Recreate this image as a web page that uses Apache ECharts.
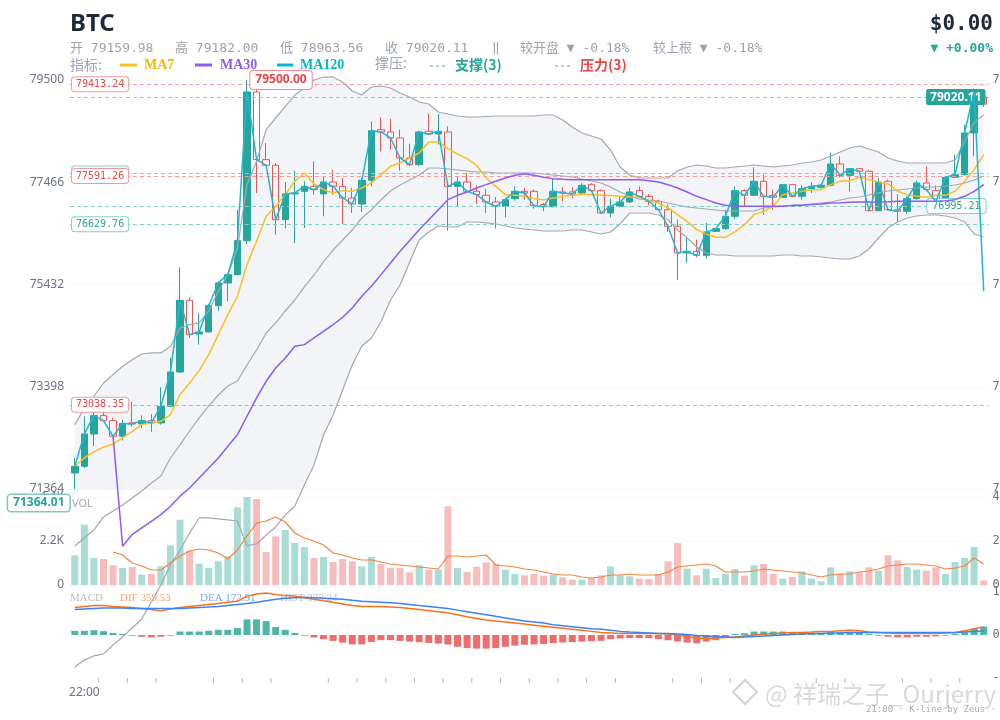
<!DOCTYPE html>
<html>
<head>
<meta charset="utf-8">
<title>BTC K-line</title>
<script src="https://cdn.jsdelivr.net/npm/echarts@6.0.0/dist/echarts.min.js"></script>
<style>
  html, body { margin: 0; padding: 0; background: #fff; }
  #chart { width: 1000px; height: 720px; }
</style>
</head>
<body>
<div id="chart"></div>
<script>
// ---- data (15 min bars) ----
var opens = [71683,71816,72459,72824,72724,72413,72678,72658,72724,72678,
  73009,73692,75118,74448,74488,75012,75463,75628,76305,79262,
  77916,77803,76722,77233,77286,77385,77233,77471,77385,77153,
  77034,77505,78512,78466,78347,77949,77816,78479,78426,78466,
  77385,77471,77286,77206,77074,76987,77140,77286,77286,77021,
  76981,77273,77273,77253,77418,77299,76855,76987,77074,77299,
  77186,77087,76921,76590,76059,76092,76013,76490,76543,76789,
  77299,77206,77485,77206,77166,77418,77186,77339,77365,77405,
  77829,77604,77737,77684,76901,77485,76921,76888,77140,77452,
  77299,77087,77564,77617,78446,79159.98];
var closes = [71816,72459,72824,72724,72413,72665,72658,72724,72678,73009,
  73692,75118,74435,74488,75012,75463,75628,76305,79262,77916,
  77803,76722,77233,77253,77385,77319,77471,77385,77153,77034,
  77505,78492,78466,78347,77949,77816,78466,78426,78479,77385,
  77471,77286,77220,77074,76987,77120,77286,77253,77001,76981,
  77286,77253,77233,77405,77299,76855,76987,77074,77273,77186,
  77087,76921,76590,76059,76092,76013,76477,76543,76789,77299,
  77206,77485,77186,77166,77418,77186,77339,77385,77405,77829,
  77604,77737,77684,76901,77471,76921,76888,77140,77452,77319,
  77087,77564,77617,78446,79280,79020.11];
var lows = [71364.01,71783,72214,72711,72393,72327,72612,72578,72499,72645,
  72990,73672,74369,74236,74480,74912,75098,75615,76238,77253,
  77790,76424,76543,76258,76556,77219,76789,77219,76636,76855,
  76875,77385,78081,78115,77697,77790,77790,78400,78214,76503,
  76987,77253,77034,76855,76543,76769,77100,77120,76941,76888,
  76968,77087,77153,77219,77286,76835,76769,76968,77054,77166,
  77007,76901,76477,75529,75860,75973,75947,76477,76523,76742,
  76987,77186,76822,76921,77153,77166,77120,77253,77339,77385,
  77564,77286,77650,76888,76888,76901,76676,76835,77120,77299,
  76855,77060,77551,77604,77982,78963.56];
var highs = [71982,72811,72910,72923,72777,72744,73096,72830,72857,73387,
  73971,75774,75177,74866,75045,75496,75661,76921,79500,79341,
  78247,77849,77471,77697,77485,77882,77564,77717,77551,77352,
  77551,78678,78758,78725,78512,78234,78492,78831,78824,78579,
  77564,77650,77405,77339,77173,77153,77385,77352,77319,77054,
  77551,77365,77365,77452,77452,77319,77140,77186,77352,77385,
  77233,77120,77021,76722,76358,76324,76656,76556,76921,77385,
  77319,77763,77617,77319,77432,77432,77405,77471,77432,78048,
  77982,77750,77750,77717,77551,77518,77233,77186,77498,77783,
  77405,77584,78015,78612,79330,79182.00];

var ma7 = [71816,71982,72101,72194,72260,72380,72512,72645,72678,72711,
  72844,73242,73474,73719,74037,74435,74833,75197,75827,76291,
  76789,76987,77220,77485,77650,77432,77319,77253,77299,77286,
  77352,77452,77617,77783,77849,77949,78048,78267,78267,78134,
  78028,77936,77803,77551,77385,77220,77206,77186,77140,77120,
  77153,77186,77206,77220,77220,77206,77200,77186,77173,77166,
  77087,77054,76954,76822,76689,76523,76437,76371,76371,76477,
  76623,76822,76888,76987,77220,77253,77286,77319,77319,77418,
  77485,77498,77564,77518,77471,77432,77286,77220,77186,77166,
  77206,77206,77286,77485,77717,78015];
var ma30 = [null,null,null,null,72413,70225,70457,70590,70722,70855,
  71021,71221,71385,71584,71783,71982,72214,72446,72811,73175,
  73507,73772,73971,74203,74236,74369,74501,74634,74780,74965,
  75197,75396,75628,75860,76092,76305,76523,76722,76921,77120,
  77206,77273,77352,77418,77485,77551,77604,77637,77604,77564,
  77538,77524,77518,77518,77518,77518,77518,77518,77518,77518,
  77498,77471,77418,77352,77273,77186,77120,77054,77007,76987,
  76987,76987,76987,76987,76987,77001,77007,77021,77034,77054,
  77060,77067,77074,77074,77074,77080,77087,77087,77087,77087,
  77087,77100,77120,77186,77286,77418];
// the MA120 line of the source runs on the closes and falls away at the last bar
var ma120 = closes.slice(0, 95).concat([75300]);

var bollUp = [72644,72976,73209,73473,73638,73805,73937,74050,74070,74070,
  74203,74567,74633,74667,74899,75297,75627,76158,77417,77883,
  78511,78744,78977,79201,79341,79500,79559,79559,79460,79281,
  79201,79361,79380,79341,79241,79162,79062,79022,78863,78824,
  78784,78764,78764,78774,78784,78784,78784,78784,78784,78804,
  78804,78704,78565,78446,78386,78326,78107,77769,77610,77551,
  77551,77551,77551,77690,77769,77809,77789,77749,77749,77769,
  77789,77809,77789,77769,77789,77809,77849,77869,77909,77988,
  78068,78147,78187,78127,78068,77948,77889,77849,77849,77849,
  77849,77849,77909,78267,78664,78804];
var bollMid = [70231,70390,70549,70808,70927,71047,71186,71325,71484,71623,
  71981,72240,72518,72777,73016,73234,73413,73513,73831,74129,
  74468,74667,74905,75124,75383,75621,75880,76118,76317,76516,
  76755,76914,77113,77292,77411,77511,77610,77749,77749,77730,
  77710,77690,77670,77670,77650,77650,77650,77650,77650,77630,
  77610,77590,77570,77531,77491,77451,77372,77272,77193,77133,
  77113,77093,77053,77014,76974,76954,76934,76914,76894,76894,
  76894,76894,76954,76974,76994,77014,77014,77033,77053,77073,
  77113,77153,77173,77212,77252,77292,77312,77332,77352,77372,
  77372,77391,77411,77451,77511,77590];
var bollLow = [67824,67964,68043,68083,68262,68421,68600,68779,69117,69455,
  69853,70151,70490,70788,70788,70768,70748,70728,70231,70271,
  70450,70609,70848,71027,71444,71842,72439,72837,73334,73831,
  74209,74368,74686,75124,75422,75880,76317,76477,76596,76576,
  76576,76675,76675,76656,76636,76596,76556,76536,76516,76496,
  76496,76496,76516,76516,76477,76437,76477,76636,76854,76854,
  76854,76815,76715,76516,76357,76178,76059,76019,76019,75999,
  75999,75999,75999,75999,76019,76019,75999,75999,75979,75959,
  75939,75939,75999,76138,76357,76556,76675,76755,76795,76815,
  76815,76795,76755,76675,76437,76377];

var volumes = [1485,3017,1350,1300,983,850,900,517,550,933,
  1983,3267,1717,1067,850,1183,1433,3883,4483,4300,
  1650,2433,2750,2100,1900,1350,1400,1150,1300,1183,
  933,1400,1050,850,850,633,983,767,767,3933,
  850,650,900,1133,1067,767,550,483,550,467,
  517,383,267,267,350,483,933,483,433,317,
  300,550,1183,2100,817,483,817,350,567,800,
  467,983,1050,567,317,400,683,317,183,883,
  567,683,633,883,717,1483,1233,900,767,717,
  883,550,1150,1350,1900,233];
var volMa = [null,null,null,null,1650,1500,1100,950,750,750,
  1100,1450,1700,1800,1750,1600,1300,1750,2450,3100,
  3200,3400,3150,2600,2350,2200,2000,1600,1500,1350,
  1250,1250,1150,1050,1000,950,900,850,800,1450,
  1450,1400,1450,1500,1000,950,900,800,750,650,
  550,500,500,400,350,400,500,500,550,500,
  500,500,650,900,950,1000,1050,950,650,650,
  650,700,800,750,700,650,600,500,400,500,
  550,550,650,700,800,950,1000,1050,1050,1000,
  950,800,850,950,1350,1050];

var dif = [1214,1260,1305,1305,1260,1237,1214,1168,1122,1076,
  1145,1214,1260,1305,1351,1397,1443,1489,1718,1809,
  1855,1786,1740,1718,1649,1580,1511,1443,1374,1305,
  1260,1260,1260,1237,1214,1168,1122,1076,1031,985,
  893,802,733,664,618,573,527,481,435,389,
  344,298,252,206,160,115,92,69,69,69,
  69,69,46,0,-69,-137,-160,-137,-115,-92,
  -46,0,46,69,92,115,115,137,160,160,
  183,206,183,137,115,92,69,69,69,69,
  69,92,115,183,275,359.53];
var dea = [1122,1145,1168,1191,1191,1191,1168,1168,1168,1168,
  1168,1168,1191,1214,1237,1260,1305,1351,1397,1443,
  1511,1580,1626,1649,1672,1649,1626,1603,1580,1534,
  1489,1466,1443,1420,1397,1351,1305,1260,1214,1168,
  1099,1031,962,893,824,756,687,618,573,527,
  458,412,366,321,275,252,206,160,137,115,
  92,69,69,46,23,-23,-46,-69,-92,-115,
  -92,-69,-46,-23,0,23,46,69,69,92,
  92,115,115,115,115,115,115,115,115,115,
  115,115,115,137,150,172.91];
var hist = [184,184,215,170,92,46,-31,-77,-107,-77,
  -31,153,153,153,184,230,230,307,690,690,
  613,353,230,92,-31,-107,-184,-260,-337,-414,
  -414,-307,-230,-230,-260,-290,-320,-350,-380,-420,
  -520,-580,-600,-600,-580,-520,-470,-430,-420,-400,
  -360,-330,-310,-290,-270,-260,-184,-153,-138,-138,
  -138,-184,-230,-291,-337,-368,-291,-230,-107,46,
  77,153,153,153,153,122,92,92,92,122,
  122,122,92,46,-31,-77,-107,-107,-77,-77,
  -61,-31,46,122,275,373.24];

var priceTicks = [71364, 73398, 75432, 77466, 79500];
var resistLevels = [79413.24, 77591.26, 73038.35];
var supportLeft = [77641.52, 76629.76];
var supportRight = [76995.21];
var priceLine = 79159.98;   // dashed current-price line
// bars whose left edge carries a time tick
var tickIdx = [3,6,9,15,18,21,27,30,33,36,39,42,45,48,51,54,57,63,66,69,78,81,87,90,93];
var tickLevel = -2010;      // just under the MACD panel

// category labels: 15 minute bars, the second one is 22:00
var cats = [];
for (var i = 0; i < opens.length; i++) {
  var m = (21 * 60 + 45 + i * 15) % 1440;
  cats.push(('0' + Math.floor(m / 60)).slice(-2) + ':' + ('0' + (m % 60)).slice(-2));
}

var UP = '#26a69a', DOWN = '#ef5350';
var RED_DASH = '#f49a9a', TEAL_DASH = '#82d0c5';
var MONO = '"DejaVu Sans Mono", monospace';

var candles = opens.map(function (o, i) { return [o, closes[i], lows[i], highs[i]]; });
var bollSpan = bollUp.map(function (v, i) { return v - bollLow[i]; });

function leftTag(v, color) {
  return {
    name: v.toFixed(2), yAxis: v,
    lineStyle: { color: color, type: [4, 3], width: 1 },
    label: {
      show: true, position: 'insideStart', distance: [2, 0], formatter: '{b}',
      color: color === RED_DASH ? '#ef4444' : UP, fontFamily: MONO, fontSize: 10,
      backgroundColor: '#fff', borderColor: color, borderWidth: 1, borderRadius: 3,
      padding: [2, 4]
    }
  };
}

var markLines = [];
supportLeft.slice(0, 1).forEach(function (v) { markLines.push(leftTag(v, TEAL_DASH)); });
resistLevels.forEach(function (v) { markLines.push(leftTag(v, RED_DASH)); });
supportLeft.slice(1).forEach(function (v) { markLines.push(leftTag(v, TEAL_DASH)); });
supportRight.forEach(function (v) {
  markLines.push({
    name: v.toFixed(2), yAxis: v,
    lineStyle: { color: TEAL_DASH, type: [4, 3], width: 1 },
    label: {
      show: true, position: 'insideEnd', distance: [3, 0], formatter: '{b}',
      color: UP, fontFamily: MONO, fontSize: 10, backgroundColor: '#fff',
      borderColor: TEAL_DASH, borderWidth: 1, borderRadius: 3, padding: [2, 5]
    }
  });
});
markLines.push({
  name: closes[closes.length - 1].toFixed(2), yAxis: priceLine,
  lineStyle: { color: TEAL_DASH, type: [4, 3], width: 1 },
  label: {
    show: true, position: 'insideEnd', distance: [3, 0], formatter: '{b}',
    color: '#fff', fontWeight: 'bold', fontSize: 12, fontFamily: '"Noto Sans"',
    backgroundColor: UP, borderRadius: 2, padding: [2, 4]
  }
});

function line(name, data, color, width, xi, yi, z) {
  return {
    name: name, type: 'line', data: data, xAxisIndex: xi || 0, yAxisIndex: yi || 0,
    symbol: 'none', clip: false, silent: true, z: z || 4,
    lineStyle: { color: color, width: width }
  };
}

function txt(x, y, s, font, fill, align) {
  return { type: 'text', x: x, y: y, silent: true,
    style: { text: s, font: font, fill: fill, align: align || 'left', verticalAlign: 'middle' } };
}
function seg(x1, x2, y, color, w, dash) {
  return { type: 'line', silent: true, shape: { x1: x1, y1: y, x2: x2, y2: y },
    style: { stroke: color, lineWidth: w, lineDash: dash || null } };
}

var n = opens.length - 1;
var HEAD = '13px ' + MONO + ', "Noto Sans CJK SC"';
var CJK = '14px "Noto Sans CJK SC"';
var graphics = [
  txt(70, 24, 'BTC', 'bold 24px "Noto Sans"', '#1f2937'),
  txt(70, 49, '开 ' + opens[n].toFixed(2), HEAD, '#9ca3af'),
  txt(175, 49, '高 ' + highs[n].toFixed(2), HEAD, '#9ca3af'),
  txt(280, 49, '低 ' + lows[n].toFixed(2), HEAD, '#9ca3af'),
  txt(385, 49, '收 ' + closes[n].toFixed(2), HEAD, '#9ca3af'),
  txt(492, 49, '‖', HEAD, '#9ca3af'),
  txt(520, 49, '较开盘 ▼ -0.18%', HEAD, '#9ca3af'),
  txt(653, 49, '较上根 ▼ -0.18%', HEAD, '#9ca3af'),
  txt(993, 25, '$0.00', 'bold 21px ' + MONO, '#1f2937', 'right'),
  txt(993, 49, '▼ +0.00%', 'bold 13px ' + MONO, UP, 'right'),
  txt(70, 65, '指标:', CJK, '#9ca3af'),
  seg(120, 137, 65, '#fbbf24', 3),
  txt(144, 65, 'MA7', 'bold 14px "Liberation Serif"', '#f5b800'),
  seg(195, 212, 65, '#8b5cf6', 3),
  txt(220, 65, 'MA30', 'bold 14px "Liberation Serif"', '#8b5cf6'),
  seg(277, 293, 65, '#06b6d4', 3),
  txt(300, 65, 'MA120', 'bold 14px "Liberation Serif"', '#06b6d4'),
  txt(375, 63, '撑压:', CJK, '#9ca3af'),
  seg(430, 446, 66, TEAL_DASH, 1.5, [3, 3]),
  txt(455, 65, '支撑(3)', 'bold ' + CJK, UP),
  seg(555, 571, 66, RED_DASH, 1.5, [3, 3]),
  txt(580, 65, '压力(3)', 'bold ' + CJK, '#ef4444'),
  txt(72, 504, 'VOL', '11px "Noto Sans"', '#a3a8b1'),
  txt(70, 598, 'MACD', '11px "Liberation Serif"', '#b8bcc4'),
  txt(120, 598, 'DIF ' + dif[n].toFixed(2), '11px "Liberation Serif"', '#f7a26b'),
  txt(200, 598, 'DEA ' + dea[n].toFixed(2), '11px "Liberation Serif"', '#7aa7f0'),
  txt(280, 598, 'HIST ' + hist[n].toFixed(2), '11px "Liberation Serif"', '#b8bcc4'),
  { type: 'polygon', silent: true, shape: { points: [[745, 680], [757, 692], [745, 704], [733, 692]] },
    style: { fill: 'none', stroke: 'rgba(170,170,170,0.5)', lineWidth: 2 } },
  txt(765, 694, '@ 祥瑞之子_Ourjerry', '24px "Noto Sans CJK SC"', 'rgba(170,170,170,0.45)'),
  txt(866, 710, '21:00 · K-line by Zeus ·', '9px ' + MONO, 'rgba(150,150,150,0.8)')
];

var hiddenX = function (gi) {
  return { type: 'category', data: cats, gridIndex: gi, boundaryGap: true,
    axisLine: { show: false, onZero: false }, axisTick: { show: false }, axisLabel: { show: false },
    splitLine: { show: false } };
};
var dotted = { show: true, lineStyle: { color: '#e5e7eb', type: [1, 3] } };
var plain = function (v) { return String(Math.round(v)); };
var kFmt = function (v) { return v === 0 ? '0' : (v / 1000).toFixed(1) + 'K'; };
function rightLabel(extra) {
  return Object.assign({ color: '#6b7280', fontFamily: MONO, fontSize: 12, margin: 4, align: 'left' }, extra);
}

var chart = echarts.init(document.getElementById('chart'));
chart.setOption({
  animation: false,
  backgroundColor: '#fff',
  textStyle: { fontFamily: '"Noto Sans", "Noto Sans CJK SC"' },
  graphic: graphics,
  grid: [
    { left: 70, right: 11.5, top: 80, height: 409, outerBoundsMode: 'none' },
    { left: 70, right: 11.5, top: 497, height: 88, outerBoundsMode: 'none' },
    { left: 70, right: 11.5, top: 592, height: 86, outerBoundsMode: 'none' }
  ],
  xAxis: [
    hiddenX(0),
    hiddenX(1),
    { type: 'category', data: cats, gridIndex: 2, boundaryGap: true, position: 'bottom',
      axisLine: { show: false, onZero: false }, axisTick: { show: false },
      axisLabel: { color: '#6b7280', fontSize: 12, margin: 9,
        interval: function (i) { return i === 1; } },
      splitLine: { show: false } }
  ],
  yAxis: [
    { type: 'value', gridIndex: 0, min: 71364, max: 79500, scale: true,
      axisLine: { show: false }, axisTick: { show: false, customValues: priceTicks },
      axisLabel: { color: '#6b7280', fontSize: 12, margin: 6, customValues: priceTicks, formatter: plain },
      splitLine: dotted },
    { type: 'value', gridIndex: 0, position: 'right', min: 71364, max: 79500, scale: true,
      axisLine: { show: false }, axisTick: { show: false, customValues: priceTicks },
      axisLabel: rightLabel({ customValues: priceTicks, formatter: plain }), splitLine: { show: false } },
    { type: 'value', gridIndex: 1, min: 0, max: 4400, interval: 2200,
      axisLine: { show: false }, axisTick: { show: false },
      axisLabel: { color: '#6b7280', fontSize: 12, margin: 6, formatter: kFmt },
      splitLine: dotted },
    { type: 'value', gridIndex: 1, position: 'right', min: 0, max: 4400, interval: 2200,
      axisLine: { show: false }, axisTick: { show: false },
      axisLabel: rightLabel({ formatter: kFmt }), splitLine: { show: false } },
    { type: 'value', gridIndex: 2, min: -1900, max: 1900, interval: 1900,
      axisLine: { show: false }, axisTick: { show: false }, axisLabel: { show: false },
      splitLine: { show: false } },
    { type: 'value', gridIndex: 2, position: 'right', min: -1900, max: 1900, interval: 1900,
      axisLine: { show: false }, axisTick: { show: false },
      axisLabel: rightLabel({ formatter: kFmt }), splitLine: { show: false } }
  ],
  series: [
    { name: 'BOLL base', type: 'line', data: bollLow, stack: 'boll', symbol: 'none', z: 0,
      silent: true, lineStyle: { opacity: 0 } },
    { name: 'BOLL band', type: 'line', data: bollSpan, stack: 'boll', symbol: 'none', z: 0,
      silent: true, lineStyle: { opacity: 0 }, areaStyle: { color: '#f3f4f7', opacity: 1 } },
    { name: 'K', type: 'candlestick', data: candles, barWidth: 7, z: 3,
      itemStyle: { color: UP, color0: 'rgba(0,0,0,0)', borderColor: UP, borderColor0: DOWN, borderWidth: 1 },
      markLine: { silent: true, symbol: ['none', 'none'], data: markLines },
      markPoint: {
        silent: true, symbol: 'circle', symbolSize: 1, itemStyle: { color: 'rgba(0,0,0,0)' },
        data: [
          { coord: [cats[18], 79500], name: '79500.00',
            label: { show: true, formatter: '{b}', offset: [34, 0], color: '#ef4444',
              fontWeight: 'bold', fontSize: 12, backgroundColor: '#fff', borderColor: '#f28b8b',
              borderWidth: 1, borderRadius: 3, padding: [3, 5] } },
          { coord: [cats[0], 71364.01], name: '71364.01',
            label: { show: true, formatter: '{b}', offset: [-36, 14], color: UP,
              fontWeight: 'bold', fontSize: 12, backgroundColor: '#fff', borderColor: '#7fc9be',
              borderWidth: 1.5, borderRadius: 3, padding: [2, 5] } }
        ]
      } },
    line('BOLL up', bollUp, '#a3a8b1', 1.2),
    line('BOLL mid', bollMid, '#a3a8b1', 1.2),
    line('BOLL low', bollLow, '#a3a8b1', 1.2),
    line('MA7', ma7, '#fbbf24', 1.5, 0, 0, 5),
    line('MA30', ma30, '#8b5cf6', 1.5, 0, 0, 5),
    line('MA120', ma120, '#22b5d3', 1.5, 0, 0, 5),
    { name: 'VOL', type: 'bar', data: volumes, xAxisIndex: 1, yAxisIndex: 2, barWidth: 7, silent: true,
      itemStyle: { color: function (p) {
        return closes[p.dataIndex] >= opens[p.dataIndex] ? '#a8dcd5' : '#f7bcbc'; } } },
    line('VOL MA', volMa, '#f5843a', 1.2, 1, 2),
    { name: 'HIST', type: 'bar', data: hist, xAxisIndex: 2, yAxisIndex: 4, barWidth: 7, silent: true,
      itemStyle: { color: function (p) { return p.value >= 0 ? '#4db6a6' : '#f06b6b'; } } },
    line('DIF', dif, '#f97316', 1.5, 2, 4),
    line('DEA', dea, '#3b82f6', 1.5, 2, 4),
    // time ticks under the lower panel, at the left edge of their bar
    { name: 'ticks', type: 'scatter', xAxisIndex: 2, yAxisIndex: 4, silent: true, clip: false,
      data: tickIdx.map(function (k) { return [k, tickLevel]; }),
      symbol: 'rect', symbolSize: [1, 5], symbolOffset: [-4.8, 0],
      itemStyle: { color: '#9ca3af' } }
  ]
});
</script>
</body>
</html>
